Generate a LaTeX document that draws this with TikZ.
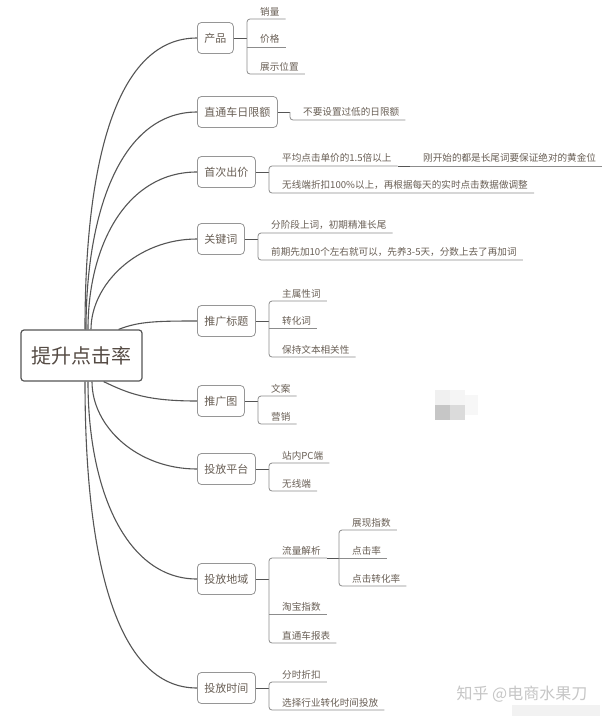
\documentclass[tikz,border=0pt]{standalone}
\usepackage{fontspec}
\setmainfont{Noto Sans CJK SC}
\definecolor{mapText}{RGB}{105,95,85}
\definecolor{rootText}{RGB}{85,75,68}
\definecolor{curveGray}{RGB}{85,85,85}
\definecolor{boxGray}{RGB}{150,150,150}
\definecolor{lineGray}{RGB}{140,140,140}
\usepackage{tikz}

\begin{document}
\begin{tikzpicture}[x=1pt, y=-1pt,
  topic/.style={draw=boxGray, line width=0.8pt, fill=white, rounded corners=4pt, anchor=west,
    minimum height=31pt, inner xsep=7pt, text=mapText, font=\fontsize{11}{13}\selectfont},
  leaf/.style={anchor=south west, inner xsep=0pt, inner ysep=3pt, text=mapText,
    font=\fontsize{9.6}{11}\selectfont, execute at begin node=\hspace{13pt}, execute at end node=\hspace{6pt}},
  stem/.style={draw=curveGray, line width=1pt},
  uline/.style={draw=lineGray, line width=0.8pt, rounded corners=3pt},
  curve/.style={draw=curveGray, line width=1.1pt}]

  \fill[white] (0,0) rectangle (613,721);
  \useasboundingbox (0,0) rectangle (613,721);

  % centre
  \node[draw=curveGray, line width=1.2pt, rounded corners=3pt, minimum width=121pt, minimum height=51pt,
    text=rootText, font=\fontsize{20}{24}\selectfont] (root) at (81.5,355.5) {提升点击率};

  % 产品
  \node[topic] (prod) at (197,38) {产品};
  \node[leaf] (prod1) at (247,19) {销量};
  \node[leaf] (prod2) at (247,47) {价格};
  \node[leaf] (prod3) at (247,74) {展示位置};
  \draw[stem] (prod.east) -- (prod.east -| prod1.west);
  \draw[uline] (prod1.south east) -- (prod1.south west) -- (prod3.south west) -- (prod3.south east);
  \draw[uline] (prod2.south west) -- (prod2.south east);

  % 直通车日限额
  \node[topic] (quota) at (197,112) {直通车日限额};
  \node[leaf] (quota1) at (290,120) {不要设置过低的日限额};
  \draw[stem] (quota.east) -- (quota.east -| quota1.west);
  \draw[uline] (quota.east -| quota1.west) -- (quota1.south west) -- (quota1.south east);

  % 首次出价
  \node[topic] (bid) at (197,172) {首次出价};
  \node[leaf] (bid1) at (269,166) {平均点击单价的1.5倍以上};
  \node[leaf] (bid1a) at (410,166) {刚开始的都是长尾词要保证绝对的黄金位};
  \node[leaf] (bid2) at (269,193) {无线端折扣100\%以上，再根据每天的实时点击数据做调整};
  \draw[stem] (bid.east) -- (bid.east -| bid1.west);
  \draw[uline] (bid1.south east) -- (bid1.south west) -- (bid2.south west) -- (bid2.south east);
  \draw[stem] (bid1.south east) -- (bid1a.south west);
  \draw[uline] (bid1a.south west) -- (bid1a.south east);

  % 关键词
  \node[topic] (kw) at (197,239) {关键词};
  \node[leaf] (kw1) at (258,233) {分阶段上词，初期精准长尾};
  \node[leaf] (kw2) at (258,260) {前期先加10个左右就可以，先养3-5天，分数上去了再加词};
  \draw[stem] (kw.east) -- (kw.east -| kw1.west);
  \draw[uline] (kw1.south east) -- (kw1.south west) -- (kw2.south west) -- (kw2.south east);

  % 推广标题
  \node[topic] (title) at (197,321) {推广标题};
  \node[leaf] (title1) at (269,301) {主属性词};
  \node[leaf] (title2) at (269,328) {转化词};
  \node[leaf] (title3) at (269,357) {保持文本相关性};
  \draw[stem] (title.east) -- (title.east -| title1.west);
  \draw[uline] (title1.south east) -- (title1.south west) -- (title3.south west) -- (title3.south east);
  \draw[uline] (title2.south west) -- (title2.south east);

  % 推广图
  \node[topic] (pic) at (197,401) {推广图};
  \node[leaf] (pic1) at (258,396) {文案};
  \node[leaf] (pic2) at (258,424) {营销};
  \draw[stem] (pic.east) -- (pic.east -| pic1.west);
  \draw[uline] (pic1.south east) -- (pic1.south west) -- (pic2.south west) -- (pic2.south east);

  % 投放平台
  \node[topic] (plat) at (197,469) {投放平台};
  \node[leaf] (plat1) at (269,463) {站内PC端};
  \node[leaf] (plat2) at (269,491) {无线端};
  \draw[stem] (plat.east) -- (plat.east -| plat1.west);
  \draw[uline] (plat1.south east) -- (plat1.south west) -- (plat2.south west) -- (plat2.south east);

  % 投放地域
  \node[topic] (reg) at (197,579) {投放地域};
  \node[leaf] (reg1) at (269,558) {流量解析};
  \node[leaf] (reg1a) at (339,530) {展现指数};
  \node[leaf] (reg1b) at (339,558) {点击率};
  \node[leaf] (reg1c) at (339,586) {点击转化率};
  \node[leaf] (reg2) at (269,614) {淘宝指数};
  \node[leaf] (reg3) at (269,643) {直通车报表};
  \draw[stem] (reg.east) -- (reg.east -| reg1.west);
  \draw[uline] (reg1.south east) -- (reg1.south west) -- (reg3.south west) -- (reg3.south east);
  \draw[uline] (reg2.south west) -- (reg2.south east);
  \draw[stem] (reg1.south east) -- (reg1b.south west);
  \draw[uline] (reg1a.south east) -- (reg1a.south west) -- (reg1c.south west) -- (reg1c.south east);
  \draw[uline] (reg1b.south west) -- (reg1b.south east);

  % 投放时间
  \node[topic] (time) at (197,688) {投放时间};
  \node[leaf] (time1) at (269,682) {分时折扣};
  \node[leaf] (time2) at (269,710) {选择行业转化时间投放};
  \draw[stem] (time.east) -- (time.east -| time1.west);
  \draw[uline] (time1.south east) -- (time1.south west) -- (time2.south west) -- (time2.south east);

  % curves from the centre
  \draw[curve] ([xshift=3.5pt]root.north) .. controls +(0,-170) and +(-80,0) .. (prod.west);
  \draw[curve] ([xshift=4.5pt]root.north) .. controls +(0,-120) and +(-75,0) .. (quota.west);
  \draw[curve] ([xshift=6.5pt]root.north) .. controls +(0,-85) and +(-70,0) .. (bid.west);
  \draw[curve] ([xshift=9.5pt]root.north) .. controls +(0,-45) and +(-60,0) .. (kw.west);
  \draw[curve] ([xshift=-24pt]root.north east) .. controls +(20,-8) and +(-40,0) .. (title.west);
  \draw[curve] ([xshift=-39pt]root.south east) .. controls +(25,12) and +(-50,0) .. (pic.west);
  \draw[curve] ([xshift=10.5pt]root.south) .. controls +(0,45) and +(-60,0) .. (plat.west);
  \draw[curve] ([xshift=6.5pt]root.south) .. controls +(0,110) and +(-70,0) .. (reg.west);
  \draw[curve] ([xshift=3.5pt]root.south) .. controls +(0,180) and +(-80,0) .. (time.west);

  % blurred patch and watermark
  \fill[gray!8] (450,390) rectangle (465,405);
  \fill[gray!12] (435,390) rectangle (450,405);
  \fill[gray!45] (435,405) rectangle (450,420);
  \fill[gray!28] (450,405) rectangle (465,420);
  \fill[gray!6] (465,395) rectangle (478,415);
  \fill[gray!10] (512,705) rectangle (600,716);
  \node[text=gray!45, font=\fontsize{16}{18}\selectfont] (mark) at (522,694) {知乎 @电商水果刀};
\end{tikzpicture}
\end{document}
